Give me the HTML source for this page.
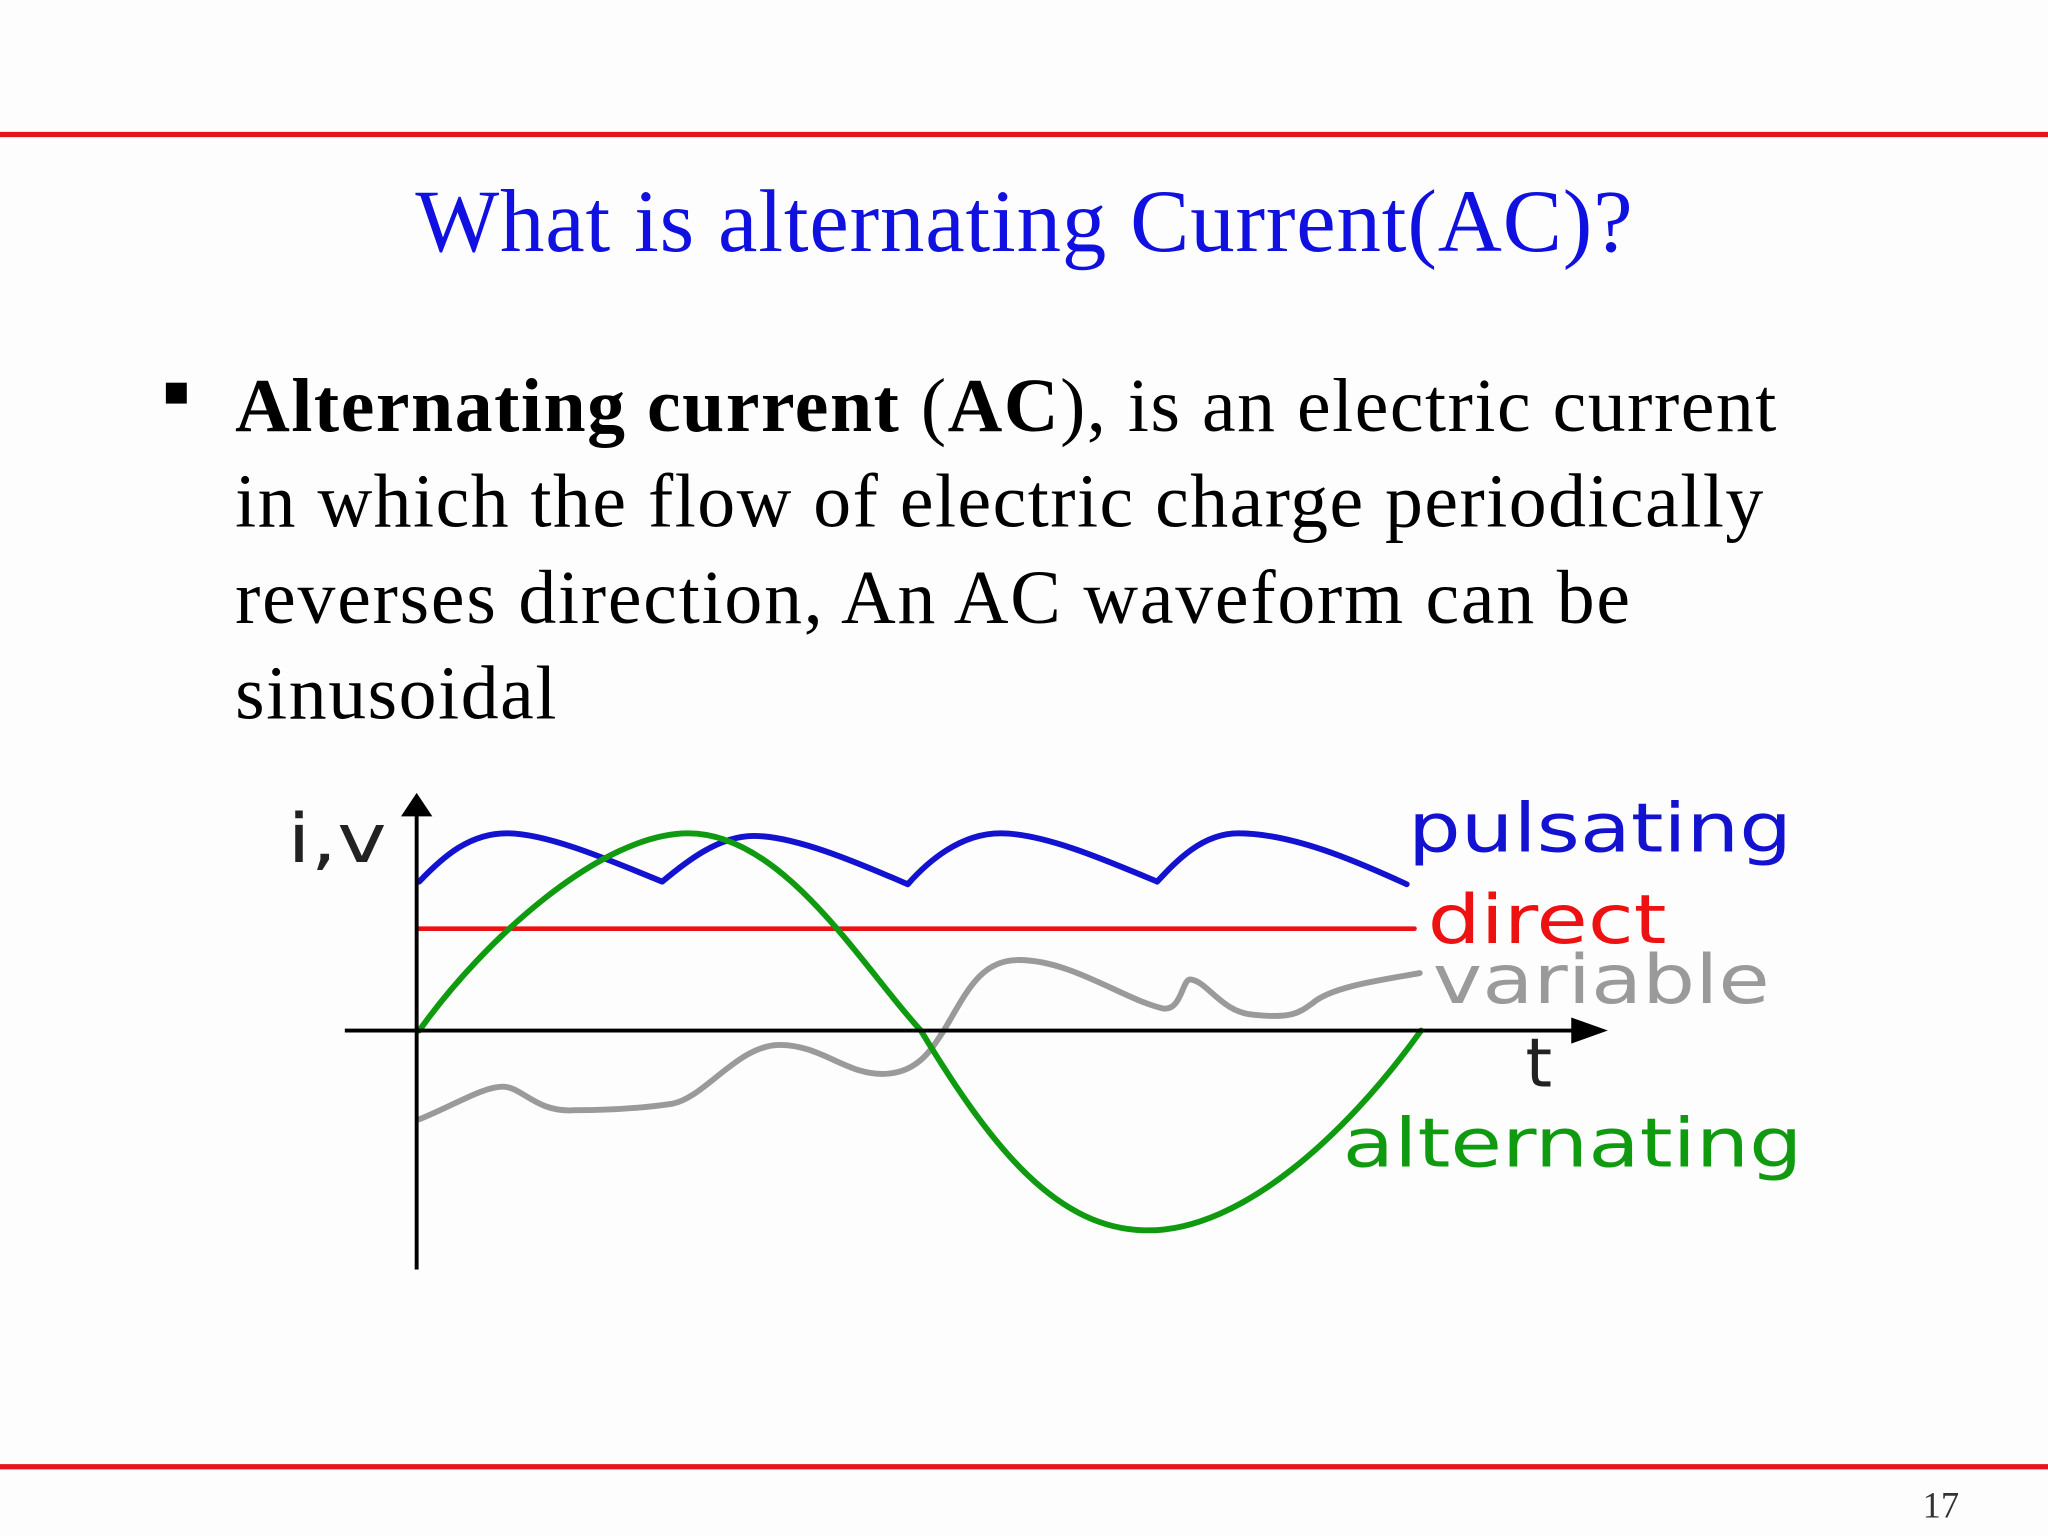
<!DOCTYPE html>
<html><head><meta charset="utf-8"><style>
html,body{margin:0;padding:0;background:#fff;}
svg{display:block;}
</style></head><body>
<svg width="2048" height="1536" viewBox="0 0 1568 1176" xmlns="http://www.w3.org/2000/svg">
<rect width="1568" height="1176" fill="#fdfdfd"/>
<line x1="0" y1="103" x2="1568" y2="103" stroke="#e8141b" stroke-width="4"/>
<line x1="0" y1="1123" x2="1568" y2="1123" stroke="#e8141b" stroke-width="4"/>
<text x="784" y="192" text-anchor="middle" font-family="Liberation Serif, serif" font-size="68" fill="#1010e0" textLength="932">What is alternating Current(AC)?</text>
<rect x="127" y="293" width="16" height="16" fill="#000"/>
<g font-family="Liberation Serif, serif" font-size="58" fill="#000">
<text x="180" y="330" textLength="1180"><tspan font-weight="bold">Alternating current</tspan> (<tspan font-weight="bold">AC</tspan>), is an electric current</text>
<text x="180" y="403" textLength="1170">in which the flow of electric charge periodically</text>
<text x="180" y="477" textLength="1068">reverses direction, An AC waveform can be</text>
<text x="180" y="550" textLength="246">sinusoidal</text>
</g>
<g fill="none" stroke-linejoin="round" stroke-linecap="round">
<path d="M321,711 H1083" stroke="#ee1111" stroke-width="3.5"/>
<path d="M321,857 C350,845 370,832 385,832 C400,832 410,852 440,850 C470,850 495,848 515,845 C540,840 565,800 597,800 C630,800 650,825 680,822 C705,820 715,800 722,790 C740,760 750,735 780,735 C820,735 860,765 890,772 C905,775 905,748 912,750 C925,752 935,775 960,777 C990,780 995,775 1005,768 C1020,755 1060,750 1087,745" stroke="#9a9a9a" stroke-width="4.5"/>
<path d="M321,675 C340,655 360,638 388,638 C420,638 470,660 507,675 C525,660 550,640 577,640 C610,640 660,662 695,677 C710,660 735,638 766,638 C800,638 850,660 886,675 C900,660 920,638 948,638 C990,638 1040,660 1077,677" stroke="#1212d0" stroke-width="4.5"/>
<path d="M321,789 C370,720 460,638 527,638 C600,638 660,740 705,789 C760,880 810,942 879,942 C950,942 1030,870 1088,789" stroke="#0f9a0f" stroke-width="4.5"/>
</g>
<line x1="319" y1="972" x2="319" y2="620" stroke="#000" stroke-width="3"/>
<polygon points="319,607 307,625 331,625" fill="#000"/>
<line x1="264" y1="789" x2="1210" y2="789" stroke="#000" stroke-width="3"/>
<polygon points="1231,789 1203,779 1203,799" fill="#000"/>
<g font-family="DejaVu Sans, sans-serif" font-size="52" lengthAdjust="spacingAndGlyphs">
<text x="220" y="660" fill="#222" textLength="76" lengthAdjust="spacingAndGlyphs">i,v</text>
<text x="1078" y="652" fill="#1212d0" textLength="294" lengthAdjust="spacingAndGlyphs">pulsating</text>
<text x="1093" y="722" fill="#ee1111" textLength="183" lengthAdjust="spacingAndGlyphs">direct</text>
<text x="1097" y="768" fill="#9a9a9a" textLength="258" lengthAdjust="spacingAndGlyphs">variable</text>
<text x="1168" y="832" fill="#222">t</text>
<text x="1028" y="893" fill="#0f9a0f" textLength="352" lengthAdjust="spacingAndGlyphs">alternating</text>
</g>
<text x="1500" y="1162" text-anchor="end" font-family="Liberation Serif, serif" font-size="28" fill="#333">17</text>
</svg>
</body></html>
